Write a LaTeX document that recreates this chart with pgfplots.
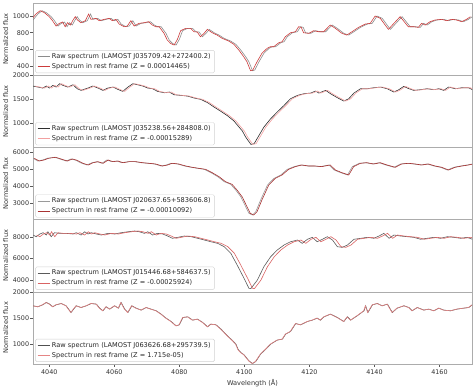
\documentclass[border=0pt]{standalone}
\usepackage{pgfplots}
\pgfplotsset{compat=1.18}
\usepackage{pgfplotstable}
\usepackage{fontspec}
\setmainfont{DejaVu Sans}

% columns: w = raw wavelength, wr = rest-frame wavelength, f = flux
\pgfplotstableread{
w wr f
4035.0 4034.4 952
4036.5 4035.9 1024
4037.8 4037.2 1064
4039.1 4038.5 1040
4040.6 4040.0 992
4041.6 4041.0 944
4042.7 4042.1 880
4043.7 4043.1 912
4044.7 4044.1 928
4045.5 4044.9 872
4046.2 4045.6 920
4047.1 4046.5 892
4047.8 4047.2 944
4048.6 4048.0 992
4049.3 4048.7 952
4050.3 4049.7 920
4051.7 4051.1 944
4052.7 4052.1 1024
4053.4 4052.8 960
4054.9 4054.3 972
4056.0 4055.4 944
4057.5 4056.9 960
4059.0 4058.4 972
4060.0 4059.4 944
4061.1 4060.5 960
4062.1 4061.5 904
4063.6 4063.0 872
4064.6 4064.0 880
4065.7 4065.1 944
4066.7 4066.1 880
4068.2 4067.6 912
4069.8 4069.2 920
4071.1 4070.5 932
4072.3 4071.7 892
4073.3 4072.7 872
4074.4 4073.8 872
4075.9 4075.3 792
4076.9 4076.3 712
4077.9 4077.3 672
4079.0 4078.4 652
4080.0 4079.4 720
4081.0 4080.4 824
4082.5 4081.9 852
4084.1 4083.5 852
4085.1 4084.5 812
4086.1 4085.5 808
4087.1 4086.5 752
4088.2 4087.6 792
4089.2 4088.6 840
4090.7 4090.1 800
4092.2 4091.6 772
4093.8 4093.2 732
4095.8 4095.2 700
4097.4 4096.8 660
4098.9 4098.3 592
4100.4 4099.8 512
4101.4 4100.8 452
4102.5 4101.9 345
4103.2 4102.6 353
4104.5 4103.9 452
4106.0 4105.4 553
4107.6 4107.0 613
4108.6 4108.0 632
4109.6 4109.0 632
4111.2 4110.6 680
4112.2 4111.6 692
4113.2 4112.6 752
4114.8 4114.2 800
4116.3 4115.7 812
4117.3 4116.7 872
4118.1 4117.5 864
4118.8 4118.2 800
4120.4 4119.8 792
4121.9 4121.3 824
4123.4 4122.8 812
4125.0 4124.4 812
4127.0 4126.4 892
4128.6 4128.0 852
4130.6 4130.0 792
4132.1 4131.5 772
4133.7 4133.1 812
4135.7 4135.1 864
4137.8 4137.2 904
4139.3 4138.7 912
4140.8 4140.2 1000
4142.4 4141.8 972
4143.9 4143.3 892
4144.9 4144.3 840
4146.4 4145.8 904
4148.5 4147.9 992
4150.0 4149.4 920
4151.0 4150.4 872
4152.6 4152.0 872
4154.1 4153.5 864
4155.1 4154.5 912
4156.2 4155.6 892
4157.7 4157.1 932
4159.2 4158.6 952
4161.3 4160.7 960
4162.8 4162.2 944
4164.3 4163.7 960
4165.9 4165.3 952
4167.4 4166.8 932
4168.9 4168.3 960
4170.1 4169.5 992
}\specA

\pgfplotstableread{
w wr f
4035.0 4035.6 1778
4036.5 4037.1 1757
4038.0 4038.6 1736
4039.1 4039.7 1778
4040.1 4040.7 1736
4041.1 4041.7 1792
4042.1 4042.7 1757
4043.2 4043.8 1826
4044.2 4044.8 1792
4045.7 4046.3 1757
4047.3 4047.9 1805
4048.6 4049.2 1722
4049.8 4050.4 1688
4051.9 4052.5 1736
4053.4 4054.0 1778
4055.0 4055.6 1736
4056.5 4057.1 1688
4058.0 4058.6 1736
4059.6 4060.2 1757
4061.1 4061.7 1708
4062.6 4063.2 1667
4064.2 4064.8 1757
4065.7 4066.3 1826
4067.2 4067.8 1805
4068.8 4069.4 1778
4070.3 4070.9 1736
4071.8 4072.4 1722
4073.3 4073.9 1667
4075.4 4076.0 1639
4076.9 4077.5 1653
4078.4 4079.0 1597
4080.5 4081.1 1583
4082.5 4083.1 1569
4084.6 4085.2 1528
4086.6 4087.2 1500
4088.7 4089.3 1431
4090.7 4091.3 1340
4092.8 4093.4 1250
4094.8 4095.4 1160
4096.8 4097.4 1050
4098.4 4099.0 920
4099.4 4100.0 840
4100.4 4101.0 715
4102.0 4102.6 563
4103.0 4103.6 577
4104.5 4105.1 750
4106.0 4106.6 923
4108.1 4108.7 1098
4110.1 4110.7 1236
4112.2 4112.8 1375
4114.2 4114.8 1514
4116.3 4116.9 1583
4118.3 4118.9 1618
4120.4 4121.0 1632
4121.9 4122.5 1674
4122.9 4123.5 1632
4125.0 4125.6 1688
4126.5 4127.1 1618
4128.6 4129.2 1535
4130.6 4131.2 1465
4132.1 4132.7 1514
4133.7 4134.3 1632
4135.7 4136.3 1722
4137.8 4138.4 1722
4139.8 4140.4 1743
4141.9 4142.5 1757
4143.9 4144.5 1722
4146.0 4146.6 1653
4147.5 4148.1 1702
4149.0 4149.6 1771
4150.6 4151.2 1722
4152.1 4152.7 1688
4154.1 4154.7 1702
4156.2 4156.8 1722
4158.2 4158.8 1702
4159.8 4160.4 1722
4161.3 4161.9 1688
4162.8 4163.4 1757
4164.9 4165.5 1722
4166.9 4167.5 1743
4168.9 4169.5 1743
4170.1 4170.7 1702
}\specB

\pgfplotstableread{
w wr f
4035.0 4035.4 5630
4036.5 4036.9 5470
4038.0 4038.4 5530
4039.4 4039.8 5630
4041.6 4042.0 5690
4043.2 4043.6 5590
4045.2 4045.6 5470
4046.7 4047.1 5590
4048.2 4048.6 5510
4049.0 4049.4 5430
4050.0 4050.4 5335
4051.6 4052.0 5236
4053.1 4053.5 5370
4054.6 4055.0 5430
4056.2 4056.6 5335
4057.7 4058.1 5530
4059.2 4059.6 5430
4060.7 4061.1 5470
4062.3 4062.7 5370
4064.2 4064.6 5430
4066.3 4066.7 5430
4068.3 4068.7 5370
4070.3 4070.7 5335
4072.3 4072.7 5295
4074.4 4074.8 5176
4076.0 4076.4 5236
4077.4 4077.8 5335
4079.4 4079.8 5295
4081.6 4082.0 5176
4083.6 4084.0 5100
4085.6 4086.0 5040
4087.7 4088.1 4980
4089.7 4090.1 4785
4091.8 4092.2 4550
4093.8 4094.2 4255
4095.8 4096.2 4100
4097.4 4097.8 3750
4098.9 4099.3 3370
4100.4 4100.8 2785
4101.4 4101.8 2395
4102.5 4102.9 2295
4103.5 4103.9 2490
4105.0 4105.4 3180
4107.1 4107.5 4060
4109.1 4109.5 4450
4111.2 4111.6 4650
4113.2 4113.6 4980
4115.3 4115.7 5140
4117.3 4117.7 5236
4119.4 4119.8 5176
4121.4 4121.8 5176
4123.4 4123.8 5140
4126.0 4126.4 5236
4127.6 4128.0 4940
4129.6 4130.0 4785
4131.7 4132.1 4650
4133.2 4133.6 5140
4135.3 4135.7 5335
4137.3 4137.7 5370
4139.4 4139.8 5295
4141.4 4141.8 5370
4143.5 4143.9 5236
4146.0 4146.4 5100
4148.0 4148.4 5295
4150.1 4150.5 5335
4152.1 4152.5 5295
4154.2 4154.6 5236
4156.2 4156.6 5295
4158.3 4158.7 5176
4160.3 4160.7 5100
4162.4 4162.8 4940
4164.4 4164.8 5100
4166.5 4166.9 5176
4168.5 4168.9 5236
4170.1 4170.5 5295
}\specC

\pgfplotstableread{
w wr f
4035.0 4036.1 8186
4036.0 4037.1 8030
4037.1 4038.2 8280
4038.1 4039.2 8400
4039.1 4040.2 8186
4039.6 4040.7 8490
4040.6 4041.7 8030
4041.6 4042.7 8400
4043.2 4044.3 8340
4045.2 4046.3 8340
4047.3 4048.4 8280
4048.3 4049.4 8400
4049.8 4050.9 8186
4050.9 4052.0 8490
4051.9 4053.0 8280
4052.9 4054.0 8400
4054.5 4055.6 8280
4056.0 4057.1 8186
4058.0 4059.1 8340
4060.1 4061.2 8280
4062.1 4063.2 8400
4064.2 4065.3 8490
4066.2 4067.3 8560
4067.7 4068.8 8490
4069.3 4070.4 8340
4070.3 4071.4 8490
4071.8 4072.9 8186
4073.3 4074.4 8340
4074.9 4076.0 8280
4076.4 4077.5 8093
4077.9 4079.0 7880
4079.5 4080.6 7970
4081.5 4082.6 8093
4083.6 4084.7 8030
4085.6 4086.7 7880
4087.7 4088.8 7720
4089.7 4090.8 7560
4091.8 4092.9 7410
4093.8 4094.9 7100
4095.8 4096.9 6500
4097.6 4098.7 5500
4099.9 4101.0 4160
4101.4 4102.5 3230
4102.0 4103.1 3200
4104.0 4105.1 4000
4106.0 4107.1 5240
4108.1 4109.2 6170
4110.1 4111.2 6790
4112.2 4113.3 7256
4114.2 4115.3 7560
4116.3 4117.4 7720
4117.8 4118.9 7410
4119.4 4120.5 7790
4120.9 4122.0 7970
4122.4 4123.5 7560
4124.0 4125.1 7790
4125.5 4126.6 8030
4127.1 4128.2 7720
4128.6 4129.7 7100
4130.1 4131.2 7040
4131.7 4132.8 7256
4133.7 4134.8 7790
4135.8 4136.9 7880
4137.8 4138.9 7970
4139.8 4140.9 7880
4141.4 4142.5 8093
4142.9 4144.0 8340
4144.5 4145.6 7880
4146.0 4147.1 8186
4148.0 4149.1 8093
4150.1 4151.2 8030
4152.1 4153.2 7970
4154.2 4155.3 7790
4156.2 4157.3 7880
4158.3 4159.4 7970
4160.3 4161.4 7880
4162.4 4163.5 8030
4164.4 4165.5 7970
4166.5 4167.6 7880
4168.5 4169.6 7970
4170.1 4171.2 7790
}\specD

\pgfplotstableread{
w wr f
4035.0 4034.9 1731
4036.5 4036.4 1712
4038.0 4037.9 1750
4039.1 4039.0 1795
4040.1 4040.0 1763
4041.1 4041.0 1712
4042.1 4042.0 1750
4043.7 4043.6 1775
4045.2 4045.1 1731
4046.7 4046.6 1602
4048.3 4048.2 1731
4049.8 4049.7 1698
4051.4 4051.3 1731
4052.9 4052.8 1775
4054.5 4054.4 1763
4055.5 4055.4 1686
4056.5 4056.4 1635
4057.5 4057.4 1712
4058.6 4058.5 1667
4060.1 4060.0 1731
4061.3 4061.2 1686
4062.1 4062.0 1795
4063.2 4063.1 1667
4064.2 4064.1 1602
4065.4 4065.3 1731
4066.7 4066.6 1686
4068.3 4068.2 1648
4069.8 4069.7 1698
4071.3 4071.2 1667
4072.9 4072.8 1635
4074.4 4074.3 1571
4075.9 4075.8 1494
4077.5 4077.4 1429
4079.0 4078.9 1346
4080.0 4079.9 1365
4081.1 4081.0 1506
4082.6 4082.5 1519
4084.1 4084.0 1455
4085.6 4085.5 1475
4087.2 4087.1 1410
4088.7 4088.6 1327
4089.7 4089.6 1379
4091.3 4091.2 1365
4092.8 4092.7 1283
4094.8 4094.7 1154
4096.4 4096.3 1060
4097.4 4097.3 994
4098.1 4098.0 890
4098.9 4098.8 833
4099.9 4099.8 789
4101.4 4101.3 673
4102.5 4102.4 621
4103.5 4103.4 660
4105.0 4104.9 802
4106.6 4106.5 898
4108.1 4108.0 994
4110.1 4110.0 1071
4111.7 4111.6 1090
4112.7 4112.6 1187
4114.2 4114.1 1237
4115.8 4115.7 1390
4117.3 4117.2 1365
4119.4 4119.3 1429
4120.9 4120.8 1455
4122.4 4122.3 1494
4123.4 4123.3 1455
4124.5 4124.4 1519
4126.5 4126.4 1571
4128.6 4128.5 1506
4130.6 4130.5 1429
4131.7 4131.6 1519
4132.7 4132.6 1455
4134.7 4134.6 1539
4136.8 4136.7 1635
4137.3 4137.2 1731
4138.0 4137.9 1602
4139.4 4139.3 1750
4140.9 4140.8 1775
4142.4 4142.3 1731
4144.0 4143.9 1763
4145.5 4145.4 1602
4147.0 4146.9 1686
4149.1 4149.0 1731
4150.6 4150.5 1698
4151.6 4151.5 1635
4153.2 4153.1 1698
4155.2 4155.1 1648
4156.7 4156.6 1667
4158.3 4158.2 1635
4159.8 4159.7 1686
4161.3 4161.2 1648
4163.4 4163.3 1635
4165.4 4165.3 1667
4167.5 4167.4 1686
4169.0 4168.9 1698
4170.1 4170.0 1750
}\specE

\definecolor{rawA}{HTML}{8C8C8C}\definecolor{restA}{HTML}{CC3B3B}
\definecolor{rawB}{HTML}{2E2E2E}\definecolor{restB}{HTML}{F2A0A0}
\definecolor{rawC}{HTML}{9A9A9A}\definecolor{restC}{HTML}{A83232}
\definecolor{rawD}{HTML}{5A5A5A}\definecolor{restD}{HTML}{D96363}
\definecolor{rawE}{HTML}{505050}\definecolor{restE}{HTML}{E58585}

\pgfplotsset{
  spec/.style={
    scale only axis, width=439pt, height=72.2pt,
    xmin=4035, xmax=4170,
    axis line style={gray!65},
    tick style={gray!70!black, line width=0.5pt},
    tick align=outside, tick pos=left,
    major tick length=2.5pt,
    ticklabel style={font=\fontsize{6.4}{7.4}\selectfont, text=black!80},
    yticklabel style={inner xsep=1.2pt},
    /pgf/number format/assume math mode=true,
    /pgf/number format/set thousands separator={},
    scaled y ticks=false,
    xtick={4040,4060,...,4160},
    ylabel={Normalized flux},
    every axis y label/.style={at={(axis description cs:-0.062,0.5)}, rotate=90, anchor=center, font=\fontsize{6.6}{7.6}\selectfont, text=black!80},
    legend style={at={(0.005,0.03)}, anchor=south west,
      font=\fontsize{6.6}{7.6}\selectfont, text=black!85,
      draw=gray!35, rounded corners=1.5pt, fill=white, fill opacity=0.8, text opacity=1,
      inner xsep=2pt, inner ysep=1pt, row sep=-0.5pt},
    legend cell align=left,
    legend image code/.code={\draw[#1] (0cm,0cm) -- (0.42cm,0cm);},
    every axis plot/.append style={line width=0.6pt},
  },
  inner/.style={xmajorticks=false, xticklabels={}},
}

\begin{document}
\begin{tikzpicture}
\path[use as bounding box] (0pt,0pt) rectangle (474pt,389pt);

\begin{axis}[spec, inner, at={(33pt,313.8pt)}, anchor=south west,
  ymin=291, ymax=1156, ytick={400,600,800,1000}]
\addplot[rawA] table[x=w, y=f] {\specA};
\addplot[restA] table[x=wr, y=f] {\specA};
\legend{Raw spectrum (LAMOST J035709.42+272400.2), Spectrum in rest frame (Z = 0.00014465)}
\end{axis}

\begin{axis}[spec, inner, at={(33pt,241.6pt)}, anchor=south west,
  ymin=500, ymax=2004, ytick={1000,1500,2000}]
\addplot[rawB] table[x=w, y=f] {\specB};
\addplot[restB] table[x=wr, y=f] {\specB};
\legend{Raw spectrum (LAMOST J035238.56+284808.0), Spectrum in rest frame (Z = -0.00015289)}
\end{axis}

\begin{axis}[spec, inner, at={(33pt,169.4pt)}, anchor=south west,
  ymin=2025, ymax=6270, ytick={3000,4000,5000,6000}]
\addplot[rawC] table[x=w, y=f] {\specC};
\addplot[restC] table[x=wr, y=f] {\specC};
\legend{Raw spectrum (LAMOST J020637.65+583606.8), Spectrum in rest frame (Z = -0.00010092)}
\end{axis}

\begin{axis}[spec, inner, at={(33pt,97.2pt)}, anchor=south west,
  ymin=2904, ymax=9620, ytick={4000,6000,8000}]
\addplot[rawD] table[x=w, y=f] {\specD};
\addplot[restD] table[x=wr, y=f] {\specD};
\legend{Raw spectrum (LAMOST J015446.68+584637.5), Spectrum in rest frame (Z = -0.00025924)}
\end{axis}

\begin{axis}[spec, at={(33pt,25pt)}, anchor=south west,
  ymin=612, ymax=2000, ytick={1000,1500,2000},
  xlabel={Wavelength (Å)},
  xlabel style={font=\fontsize{6.6}{7.6}\selectfont, text=black!80, yshift=2pt}]
\addplot[rawE] table[x=w, y=f] {\specE};
\addplot[restE] table[x=wr, y=f] {\specE};
\legend{Raw spectrum (LAMOST J063626.68+295739.5), Spectrum in rest frame (Z = 1.715e-05)}
\end{axis}
\end{tikzpicture}
\end{document}
